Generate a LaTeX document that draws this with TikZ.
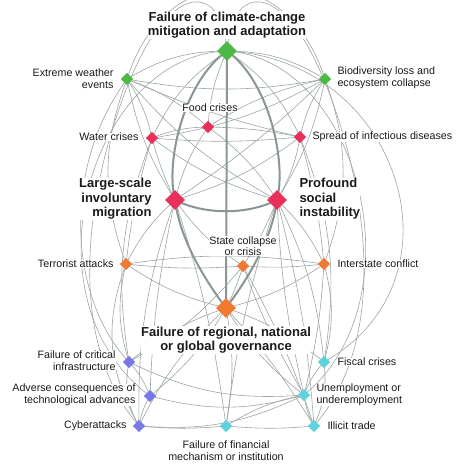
\documentclass[tikz,border=0pt]{standalone}
\usepackage{fontspec}
\setmainfont{Liberation Sans}
\usetikzlibrary{shapes.geometric,backgrounds}
\definecolor{cgreen}{HTML}{4CB944}
\definecolor{cred}{HTML}{E8305A}
\definecolor{corange}{HTML}{F07A32}
\definecolor{cblue}{HTML}{7878E6}
\definecolor{ccyan}{HTML}{5FD3DC}
\definecolor{ethin}{HTML}{9CA4A4}
\definecolor{ethick}{HTML}{8A9595}
\definecolor{txt}{HTML}{1A1A1A}
\tikzset{
  dbig/.style={shape=diamond,aspect=1,minimum width=20pt,minimum height=20pt,inner sep=0pt,draw=none},
  dsmall/.style={shape=diamond,aspect=1,minimum width=12.5pt,minimum height=12.5pt,inner sep=0pt,draw=none},
  e/.style={draw=ethin,line width=0.6pt},
  ek/.style={draw=ethick,line width=2pt},
  lab/.style={text=txt,font=\fontsize{10.7}{12}\selectfont,inner sep=0.3pt,fill=white},
  blab/.style={text=txt,font=\fontsize{13}{14.6}\selectfont\bfseries,inner sep=0.3pt,fill=white}
}
\begin{document}
\begin{tikzpicture}[x=1pt,y=1pt]
\useasboundingbox (0,0) rectangle (474,-474);
\clip (0,0) rectangle (474,-474);
% nodes
\node[dbig,fill=cgreen] (C) at (227,-51) {};
\node[dsmall,fill=cgreen] (EW) at (127,-79) {};
\node[dsmall,fill=cgreen] (BD) at (325,-79) {};
\node[dsmall,fill=cred] (FC) at (208,-127) {};
\node[dsmall,fill=cred] (WC) at (152,-138) {};
\node[dsmall,fill=cred] (SI) at (300,-137) {};
\node[dbig,fill=cred] (LM) at (175,-200) {};
\node[dbig,fill=cred] (PS) at (277,-200) {};
\node[dsmall,fill=corange] (SC) at (243,-266) {};
\node[dsmall,fill=corange] (TA) at (126,-264) {};
\node[dsmall,fill=corange] (IC) at (324,-264) {};
\node[dbig,fill=corange] (G) at (226,-308) {};
\node[dsmall,fill=cblue] (FCI) at (129,-362) {};
\node[dsmall,fill=cblue] (AC) at (150,-396) {};
\node[dsmall,fill=cblue] (CA) at (139,-426) {};
\node[dsmall,fill=ccyan] (FF) at (226,-426) {};
\node[dsmall,fill=ccyan] (UE) at (304,-395) {};
\node[dsmall,fill=ccyan] (IT) at (314,-426) {};
\node[dsmall,fill=ccyan] (FS) at (324,-362) {};
% labels
\node[blab,align=center] (lC) at (227,-25) {Failure of climate-change\\mitigation and adaptation};
\node[lab,align=right,anchor=east] (lEW) at (114,-79) {Extreme weather\\events};
\node[lab,align=left,anchor=west] (lBD) at (337,-78) {Biodiversity loss and\\ecosystem collapse};
\node[lab] (lFC) at (210,-108) {Food crises};
\node[lab,anchor=east] (lWC) at (139,-137) {Water crises};
\node[lab,anchor=west] (lSI) at (312,-137) {Spread of infectious diseases};
\node[blab,align=right,anchor=east] (lLM) at (152,-199) {Large-scale\\involuntary\\migration};
\node[blab,align=left,anchor=west] (lPS) at (299,-199) {Profound\\social\\instability};
\node[lab,align=center,font=\fontsize{10.7}{11.5}\selectfont] (lSC) at (243,-246) {State collapse\\or crisis};
\node[lab,anchor=east] (lTA) at (114,-264) {Terrorist attacks};
\node[lab,anchor=west] (lIC) at (337,-264) {Interstate conflict};
\node[blab,align=center] (lG) at (226,-340) {Failure of regional, national\\or global governance};
\node[lab,align=right,anchor=east] (lFCI) at (116,-361) {Failure of critical\\infrastructure};
\node[lab,align=right,anchor=east] (lAC) at (136,-395) {Adverse consequences of\\technological advances};
\node[lab,anchor=east] (lCA) at (127,-426) {Cyberattacks};
\node[lab,align=center] (lFF) at (226,-451) {Failure of financial\\mechanism or institution};
\node[lab,anchor=west] (lFS) at (337,-362) {Fiscal crises};
\node[lab,align=left,anchor=west] (lUE) at (316,-395) {Unemployment or\\underemployment};
\node[lab,anchor=west] (lIT) at (327,-426) {Illicit trade};
\begin{scope}[on background layer]
% thin edges
\draw[e] (EW.center) to[bend right=10] (BD.center);
\draw[e] (EW.center) .. controls (165,40) and (287,40) .. (BD.center);
\draw[e] (EW.center) to[bend left=15] (C.center);
\draw[e] (C.center) to[bend left=15] (BD.center);
\draw[e] (EW.center) to[bend left=10] (FC.center);
\draw[e] (EW.center) to[bend left=10] (WC.center);
\draw[e] (EW.center) to[bend right=10] (LM.center);
\draw[e] (EW.center) to[bend right=5] (SI.center);
\draw[e] (EW.center) to[bend right=10] (PS.center);
\draw[e] (EW.center) .. controls (60,-170) and (70,-300) .. (FCI.center);
\draw[e] (EW.center) to[bend right=20] (TA.center);
\draw[e] (BD.center) to[bend right=10] (FC.center);
\draw[e] (BD.center) to[bend left=10] (WC.center);
\draw[e] (BD.center) to[bend right=10] (SI.center);
\draw[e] (BD.center) to[bend left=10] (PS.center);
\draw[e] (BD.center) to[bend left=5] (LM.center);
\draw[e] (BD.center) to[bend left=20] (IC.center);
\draw[e] (C.center) to[bend right=15] (WC.center);
\draw[e] (C.center) to[bend left=15] (SI.center);
\draw[e] (C.center) to[bend right=10] (FC.center);
\draw[e] (WC.center) to[bend left=10] (FC.center);
\draw[e] (WC.center) to[bend right=5] (SI.center);
\draw[e] (FC.center) to[bend left=5] (SI.center);
\draw[e] (WC.center) to[bend right=5] (LM.center);
\draw[e] (WC.center) to[bend right=10] (PS.center);
\draw[e] (FC.center) to[bend right=10] (LM.center);
\draw[e] (FC.center) to[bend left=10] (PS.center);
\draw[e] (SI.center) to[bend left=10] (PS.center);
\draw[e] (SI.center) to[bend left=10] (LM.center);
\draw[e] (LM.center) to[bend right=10] (SC.center);
\draw[e] (PS.center) to[bend left=5] (SC.center);
\draw[e] (LM.center) to[bend right=10] (TA.center);
\draw[e] (PS.center) to[bend left=10] (IC.center);
\draw[e] (TA.center) to[bend right=5] (SC.center);
\draw[e] (SC.center) to[bend right=5] (IC.center);
\draw[e] (TA.center) to[bend left=8] (IC.center);
\draw[e] (TA.center) to[bend right=10] (G.center);
\draw[e] (IC.center) to[bend left=10] (G.center);
\draw[e] (TA.center) to[bend right=15] (FCI.center);
\draw[e] (TA.center) to[bend right=25] (CA.center);
\draw[e] (IC.center) to[bend left=15] (FS.center);
\draw[e] (IC.center) to[bend left=5] (UE.center);
\draw[e] (SC.center) to[bend left=5] (G.center);
\draw[e] (G.center) to[bend right=10] (FCI.center);
\draw[e] (G.center) to[bend left=10] (AC.center);
\draw[e] (G.center) to[bend right=10] (CA.center);
\draw[e] (G.center) to[bend left=10] (FF.center);
\draw[e] (G.center) to[bend right=10] (UE.center);
\draw[e] (G.center) to[bend left=5] (IT.center);
\draw[e] (G.center) to[bend left=10] (FS.center);
\draw[e] (FCI.center) to[bend left=10] (AC.center);
\draw[e] (FCI.center) to[bend right=20] (CA.center);
\draw[e] (AC.center) to[bend right=10] (CA.center);
\draw[e] (CA.center) to[bend right=5] (FF.center);
\draw[e] (FF.center) to[bend right=5] (IT.center);
\draw[e] (FF.center) to[bend left=10] (UE.center);
\draw[e] (CA.center) to[bend right=15] (UE.center);
\draw[e] (AC.center) to[bend right=15] (UE.center);
\draw[e] (UE.center) to[bend right=10] (IT.center);
\draw[e] (FS.center) to[bend right=10] (UE.center);
\draw[e] (FS.center) to[bend left=15] (IT.center);
\draw[e] (PS.center) to[bend right=5] (UE.center);
\draw[e] (PS.center) to[bend left=5] (IT.center);
\draw[e] (PS.center) to[bend left=10] (FS.center);
\draw[e] (PS.center) to[bend right=5] (FF.center);
\draw[e] (LM.center) to[bend right=10] (CA.center);
\draw[e] (LM.center) to[bend left=5] (FF.center);
\draw[e] (LM.center) to[bend right=5] (AC.center);
\draw[e] (SC.center) to[bend left=10] (FCI.center);
\draw[e] (SC.center) to[bend right=5] (UE.center);
\draw[e] (SC.center) to[bend left=5] (IT.center);
\draw[e] (FCI.center) to[bend right=15] (UE.center);
\draw[e] (WC.center) to[bend right=15] (FCI.center);
\draw[e] (WC.center) to[bend right=5] (TA.center);
\draw[e] (SI.center) to[bend left=5] (IC.center);
\draw[e] (SI.center) to[bend left=15] (FS.center);
\draw[e] (C.center) .. controls (400,-60) and (470,-280) .. (FS.center);
\draw[e] (C.center) .. controls (360,-60) and (420,-300) .. (UE.center);
\draw[e] (C.center) .. controls (90,-55) and (20,-300) .. (AC.center);
\draw[e] (C.center) .. controls (222,10) and (185,15) .. (150,-40) .. controls (115,-95) and (40,-310) .. (CA.center);
\draw[e] (C.center) .. controls (232,10) and (269,15) .. (304,-40) .. controls (339,-95) and (414,-310) .. (IT.center);
% thick edges
\draw[ek] (C.center) -- (G.center);
\draw[ek] (C.center) .. controls (185,-80) and (165,-160) .. (LM.center);
\draw[ek] (LM.center) .. controls (180,-240) and (205,-280) .. (G.center);
\draw[ek] (C.center) .. controls (268,-80) and (287,-160) .. (PS.center);
\draw[ek] (PS.center) .. controls (272,-240) and (247,-280) .. (G.center);
\draw[ek] (LM.center) .. controls (205,-215) and (247,-215) .. (PS.center);
\end{scope}
\end{tikzpicture}
\end{document}
